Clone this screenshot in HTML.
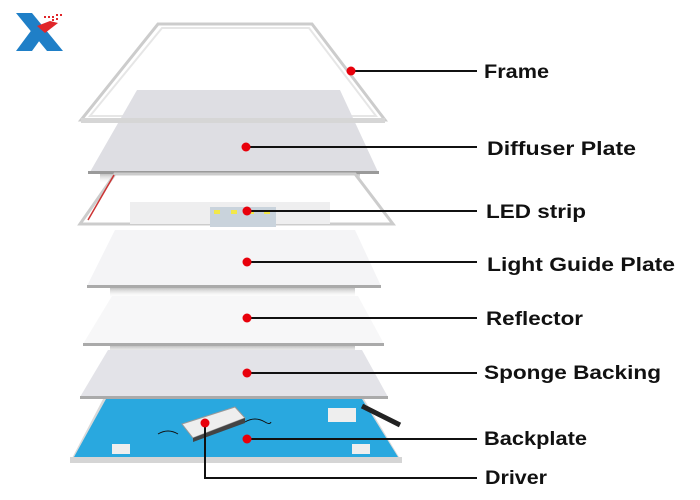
<!DOCTYPE html>
<html><head><meta charset="utf-8"><style>
html,body{margin:0;padding:0;background:#fff;width:700px;height:500px;overflow:hidden}
svg text{font-family:"Liberation Sans",Arial,sans-serif;font-weight:bold;font-size:19px;fill:#111}
</style></head><body>
<svg width="700" height="500" viewBox="0 0 700 500" xmlns="http://www.w3.org/2000/svg">
<defs>
<linearGradient id="sh" x1="0" y1="0" x2="0" y2="1"><stop offset="0" stop-color="#999" stop-opacity=".6"/><stop offset="1" stop-color="#fff" stop-opacity="0"/></linearGradient>
</defs>
<!-- logo -->
<path d="M16 13 L32 13 L63 51 L47 51 Z" fill="#1f7fc7"/>
<path d="M16 51 L32 51 L45 33 L36 24 Z" fill="#1f7fc7"/>
<path d="M37 26 L50 21 L58 23 L45 33 Z" fill="#e0262a"/>
<g fill="#e0262a"><rect x="44" y="16" width="2" height="2"/><rect x="48" y="16" width="2" height="2"/><rect x="52" y="16" width="2" height="2"/><rect x="56" y="14" width="2" height="2"/><rect x="60" y="14" width="2" height="2"/><rect x="52" y="19" width="2" height="2"/><rect x="56" y="18" width="2" height="2"/></g>

<!-- Frame -->
<path d="M158 24 L312 24 L385 120 L81 120 Z" fill="#fff" stroke="#ccc" stroke-width="3"/>
<path d="M162 28 L309 28 L376 116 L90 116 Z" fill="none" stroke="#e6e6e6" stroke-width="2"/>
<!-- diffuser -->
<path d="M137 90 L340 90 L378 172 L90 172 Z" fill="#dedee3"/>
<path d="M81 118 L385 118 L385 123 L81 123 Z" fill="#d6d6d6"/>
<rect x="88" y="171" width="291" height="3" fill="#9a9a9a"/>
<rect x="100" y="174" width="260" height="10" fill="url(#sh)"/>
<!-- LED frame -->
<path d="M115 174 L355 174 L393 224 L80 224 Z" fill="#fff" stroke="#ccc" stroke-width="3"/>
<path d="M114 175 L88 220" stroke="#c33" stroke-width="1.5"/>
<rect x="130" y="202" width="200" height="22" fill="#eeeeef"/>
<rect x="210" y="207" width="66" height="20" fill="#c9d3dc"/>
<rect x="214" y="210" width="6" height="4" fill="#f2e84a"/><rect x="231" y="210" width="6" height="4" fill="#f2e84a"/><rect x="248" y="210" width="6" height="4" fill="#f2e84a"/><rect x="264" y="210" width="6" height="4" fill="#f2e84a"/>
<!-- light guide -->
<path d="M115 230 L355 230 L381 286 L87 286 Z" fill="#f4f4f6"/>
<rect x="87" y="285" width="294" height="3" fill="#aaa"/>
<rect x="110" y="288" width="245" height="10" fill="url(#sh)"/>
<!-- reflector -->
<path d="M112 296 L358 296 L384 344 L83 344 Z" fill="#f7f7f8"/>
<rect x="83" y="343" width="301" height="3" fill="#aaa"/>
<rect x="110" y="346" width="245" height="10" fill="url(#sh)"/>
<!-- sponge -->
<path d="M108 350 L362 350 L388 397 L80 397 Z" fill="#e3e3e8"/>
<rect x="80" y="396" width="308" height="3" fill="#aaa"/>
<!-- backplate -->
<path d="M103 399 L364 399 L402 462 L70 462 Z" fill="#d9d9d9"/>
<path d="M106 399 L362 399 L398 457 L74 457 Z" fill="#29a8df"/>
<rect x="70" y="457" width="332" height="6" fill="#d5d5d5"/>
<path d="M158 434 q10 -6 20 0 M245 422 q10 -6 20 0 q5 3 6 0" stroke="#111" fill="none" stroke-width="1"/>
<path d="M182 424 L235 407 L245 418 L193 438 Z" fill="#eee" stroke="#999"/>
<path d="M193 438 L245 418 L245 423 L193 442 Z" fill="#444"/>
<rect x="328" y="408" width="28" height="14" fill="#eee"/>
<path d="M362 406 L400 425" stroke="#222" stroke-width="5"/>
<rect x="112" y="444" width="18" height="10" fill="#eee"/>
<rect x="352" y="444" width="18" height="10" fill="#eee"/>
<!-- leader lines -->
<g stroke="#111" stroke-width="2" fill="none">
<path d="M351 71 H477"/><path d="M246 147 H477"/><path d="M247 211 H477"/><path d="M247 262 H477"/><path d="M247 318 H477"/><path d="M247 373 H477"/><path d="M247 439 H477"/><path d="M205 423 V478 H477"/>
</g>
<g fill="#e8000b">
<circle cx="351" cy="71" r="4.5"/><circle cx="246" cy="147" r="4.5"/><circle cx="247" cy="211" r="4.5"/><circle cx="247" cy="262" r="4.5"/><circle cx="247" cy="318" r="4.5"/><circle cx="247" cy="373" r="4.5"/><circle cx="247" cy="439" r="4.5"/><circle cx="205" cy="423" r="4.5"/>
</g>
<text x="484" y="78" textLength="65" lengthAdjust="spacingAndGlyphs">Frame</text>
<text x="487" y="155" textLength="149" lengthAdjust="spacingAndGlyphs">Diffuser Plate</text>
<text x="486" y="218" textLength="100" lengthAdjust="spacingAndGlyphs">LED strip</text>
<text x="487" y="271" textLength="188" lengthAdjust="spacingAndGlyphs">Light Guide Plate</text>
<text x="486" y="325" textLength="97" lengthAdjust="spacingAndGlyphs">Reflector</text>
<text x="484" y="379" textLength="177" lengthAdjust="spacingAndGlyphs">Sponge Backing</text>
<text x="484" y="445" textLength="103" lengthAdjust="spacingAndGlyphs">Backplate</text>
<text x="485" y="484" textLength="62" lengthAdjust="spacingAndGlyphs">Driver</text>
</svg>
</body></html>
